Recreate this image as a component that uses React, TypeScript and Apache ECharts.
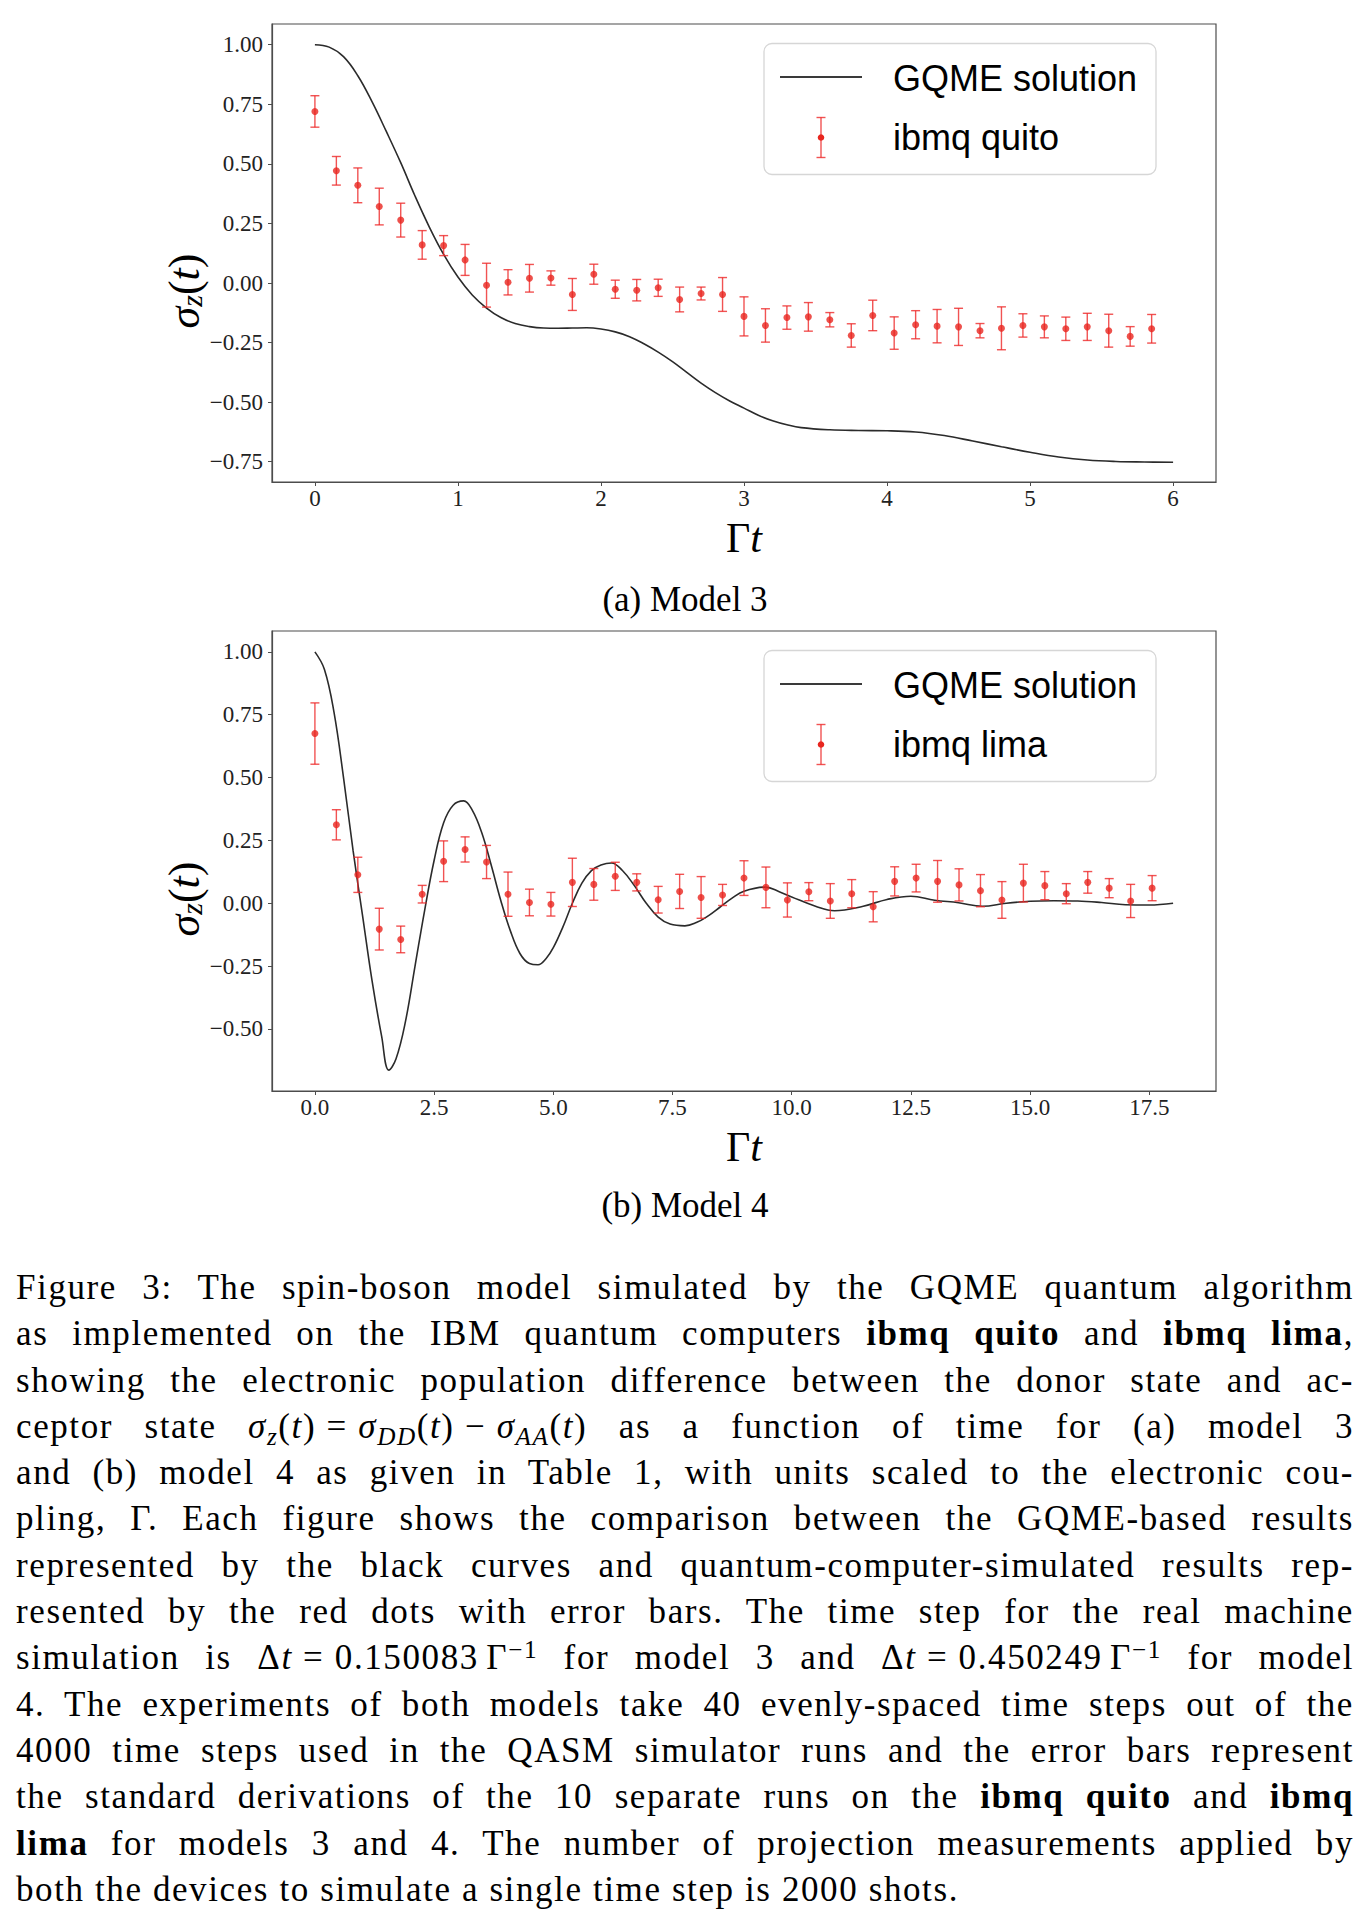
import React, { useEffect, useRef } from 'react';
import * as echarts from 'echarts';

// ---- (a) Model 3 : GQME curve, sampled off the figure
const curveATime = [0, 0.1, 0.2, 0.3, 0.4, 0.5, 0.6, 0.7, 0.8, 0.9, 1.0, 1.1, 1.2, 1.3, 1.4, 1.5, 1.6, 1.7, 1.8, 1.9, 2.0, 2.1, 2.2, 2.3, 2.4, 2.5, 2.6, 2.7, 2.8, 2.9, 3.0, 3.1, 3.2, 3.3, 3.4, 3.6, 3.8, 4.0, 4.2, 4.4, 4.6, 4.8, 5.0, 5.2, 5.4, 5.6, 5.8, 6.0];
const curveAValue = [1.0, 0.99, 0.95, 0.87, 0.76, 0.635, 0.505, 0.365, 0.235, 0.12, 0.025, -0.05, -0.105, -0.145, -0.17, -0.183, -0.189, -0.19, -0.189, -0.188, -0.193, -0.205, -0.225, -0.255, -0.29, -0.33, -0.375, -0.42, -0.46, -0.495, -0.525, -0.555, -0.578, -0.595, -0.607, -0.616, -0.619, -0.62, -0.625, -0.64, -0.663, -0.687, -0.71, -0.73, -0.743, -0.749, -0.751, -0.752];

// ibmq quito points (mean, +/- error)
const quitoTime = [0, 0.15, 0.30, 0.45, 0.60, 0.75, 0.90, 1.05, 1.20, 1.35, 1.50, 1.65, 1.80, 1.95, 2.10, 2.25, 2.40, 2.55, 2.70, 2.85, 3.00, 3.15, 3.30, 3.45, 3.60, 3.75, 3.90, 4.05, 4.20, 4.35, 4.50, 4.65, 4.80, 4.95, 5.10, 5.25, 5.40, 5.55, 5.70, 5.85];
const quitoMean = [0.72, 0.471, 0.41, 0.321, 0.264, 0.16, 0.157, 0.097, -0.009, 0.003, 0.02, 0.021, -0.048, 0.037, -0.026, -0.03, -0.02, -0.069, -0.044, -0.048, -0.14, -0.178, -0.145, -0.142, -0.154, -0.22, -0.136, -0.21, -0.175, -0.181, -0.184, -0.2, -0.19, -0.178, -0.184, -0.192, -0.184, -0.2, -0.224, -0.192];
const quitoErr = [0.066, 0.06, 0.073, 0.077, 0.071, 0.06, 0.042, 0.065, 0.092, 0.053, 0.058, 0.03, 0.067, 0.042, 0.038, 0.045, 0.036, 0.052, 0.027, 0.071, 0.082, 0.07, 0.049, 0.06, 0.03, 0.049, 0.064, 0.068, 0.059, 0.07, 0.078, 0.03, 0.09, 0.049, 0.046, 0.049, 0.057, 0.069, 0.041, 0.06];

// ---- (b) Model 4
const curveBTime = [0, 0.2, 0.4, 0.6, 0.8, 1.0, 1.2, 1.4, 1.55, 1.7, 1.9, 2.1, 2.3, 2.5, 2.7, 2.9, 3.12, 3.3, 3.5, 3.7, 3.9, 4.1, 4.3, 4.5, 4.68, 4.85, 5.0, 5.2, 5.4, 5.6, 5.8, 6.0, 6.22, 6.45, 6.7, 6.95, 7.2, 7.45, 7.76, 8.0, 8.25, 8.5, 8.75, 9.0, 9.45, 9.75, 10.0, 10.5, 10.9, 11.5, 12.0, 12.5, 13.0, 13.5, 14.0, 14.5, 15.0, 15.5, 16.0, 16.5, 17.0, 17.5, 18.0];
const curveBValue = [1.0, 0.93, 0.76, 0.5, 0.21, -0.05, -0.31, -0.53, -0.664, -0.62, -0.47, -0.25, -0.03, 0.17, 0.32, 0.39, 0.407, 0.37, 0.28, 0.15, 0.01, -0.11, -0.2, -0.24, -0.245, -0.22, -0.177, -0.095, 0.0, 0.08, 0.13, 0.152, 0.16, 0.13, 0.07, 0.0, -0.055, -0.083, -0.09, -0.077, -0.05, -0.015, 0.02, 0.048, 0.064, 0.045, 0.025, -0.012, -0.03, -0.012, 0.015, 0.028, 0.012, 0.002, -0.012, 0.0, 0.008, 0.01, 0.009, 0.003, -0.006, -0.007, 0.0];

const limaTime = [0, 0.45, 0.90, 1.35, 1.80, 2.25, 2.70, 3.15, 3.60, 4.05, 4.50, 4.95, 5.40, 5.85, 6.30, 6.75, 7.20, 7.65, 8.10, 8.55, 9.00, 9.46, 9.91, 10.36, 10.81, 11.26, 11.71, 12.16, 12.61, 13.06, 13.51, 13.96, 14.41, 14.86, 15.31, 15.76, 16.21, 16.66, 17.11, 17.56];
const limaMean = [0.675, 0.312, 0.113, -0.103, -0.144, 0.036, 0.167, 0.214, 0.164, 0.036, 0.003, -0.004, 0.083, 0.075, 0.107, 0.083, 0.014, 0.047, 0.023, 0.033, 0.1, 0.063, 0.013, 0.046, 0.009, 0.038, -0.014, 0.087, 0.1, 0.087, 0.073, 0.05, 0.013, 0.08, 0.07, 0.038, 0.083, 0.06, 0.009, 0.06];
const limaErr = [0.122, 0.06, 0.07, 0.083, 0.053, 0.035, 0.081, 0.05, 0.066, 0.088, 0.053, 0.047, 0.096, 0.063, 0.056, 0.034, 0.053, 0.068, 0.083, 0.042, 0.069, 0.081, 0.068, 0.036, 0.069, 0.056, 0.06, 0.058, 0.055, 0.083, 0.064, 0.064, 0.073, 0.075, 0.056, 0.04, 0.043, 0.038, 0.066, 0.05];

// tick labels
const xTicksA = [0, 1, 2, 3, 4, 5, 6];
const yTicksA = [-0.75, -0.5, -0.25, 0, 0.25, 0.5, 0.75, 1.0];
const xTicksB = [0, 2.5, 5, 7.5, 10, 12.5, 15, 17.5];
const yTicksB = [-0.5, -0.25, 0, 0.25, 0.5, 0.75, 1.0];

const SERIF = '"Liberation Serif", "DejaVu Serif", serif';
const SANS = '"Liberation Sans", Arial, sans-serif';
const ERR_COLOR = 'rgba(238, 40, 40, 0.8)';
const DOT_COLOR = '#e8261f';
const CURVE_COLOR = '#2b2b2b';
const SPINE = '#4d4d4d';

const fmtY = (v: number) => (v < 0 ? '\u2212' : '') + Math.abs(v).toFixed(2);

const makeXAxis = (gridIndex: number, min: number, max: number, ticks: number[], fmt: (v: number) => string) => ({
  type: 'value',
  gridIndex,
  min,
  max,
  axisLine: { show: true, onZero: false, lineStyle: { color: SPINE, width: 1.2 } },
  axisTick: { show: true, customValues: ticks, length: 4, lineStyle: { color: SPINE, width: 1 } },
  axisLabel: { customValues: ticks, formatter: fmt, fontFamily: SERIF, fontSize: 23, lineHeight: 23, color: '#222', margin: 5 },
  splitLine: { show: false },
});

const makeYAxis = (gridIndex: number, min: number, max: number, ticks: number[]) => ({
  type: 'value',
  gridIndex,
  min,
  max,
  axisLine: { show: true, onZero: false, lineStyle: { color: SPINE, width: 1.2 } },
  axisTick: { show: true, customValues: ticks, length: 4, lineStyle: { color: SPINE, width: 1 } },
  axisLabel: { customValues: ticks, formatter: fmtY, fontFamily: SERIF, fontSize: 23, color: '#222', margin: 9 },
  splitLine: { show: false },
});

const errorBars = (idx: number, t: number[], mean: number[], err: number[]) => ({
  type: 'custom',
  xAxisIndex: idx,
  yAxisIndex: idx,
  z: 3,
  data: t.map((x, i) => [x, mean[i] - err[i], mean[i] + err[i]]),
  encode: { x: 0, y: [1, 2] },
  renderItem: (_params: any, api: any) => {
    const x = api.value(0);
    const lo = api.coord([x, api.value(1)]);
    const hi = api.coord([x, api.value(2)]);
    const style = { stroke: ERR_COLOR, lineWidth: 1.4 };
    return {
      type: 'group',
      children: [
        { type: 'line', shape: { x1: hi[0], y1: hi[1], x2: lo[0], y2: lo[1] }, style },
        { type: 'line', shape: { x1: hi[0] - 4.5, y1: hi[1], x2: hi[0] + 4.5, y2: hi[1] }, style },
        { type: 'line', shape: { x1: lo[0] - 4.5, y1: lo[1], x2: lo[0] + 4.5, y2: lo[1] }, style },
      ],
    };
  },
});

const dots = (idx: number, t: number[], mean: number[]) => ({
  type: 'scatter',
  xAxisIndex: idx,
  yAxisIndex: idx,
  z: 4,
  symbolSize: 7,
  itemStyle: { color: DOT_COLOR },
  data: t.map((x, i) => [x, mean[i]]),
});

const curve = (idx: number, t: number[], v: number[]) => ({
  type: 'line',
  xAxisIndex: idx,
  yAxisIndex: idx,
  z: 2,
  smooth: 0.4,
  showSymbol: false,
  lineStyle: { color: CURVE_COLOR, width: 1.6 },
  data: t.map((x, i) => [x, v[i]]),
});

// legend box drawn by hand so the error-bar glyph matches
const legendBox = (top: number, label: string) => ({
  type: 'group',
  children: [
    { type: 'rect', shape: { x: 764, y: top, width: 392, height: 131, r: 8 }, style: { fill: 'rgba(255,255,255,0.85)', stroke: '#d6d6d6', lineWidth: 1.3 }, z: 10 },
    { type: 'line', shape: { x1: 780, y1: top + 33.5, x2: 862, y2: top + 33.5 }, style: { stroke: '#3a3a3a', lineWidth: 1.8 }, z: 11 },
    { type: 'text', x: 893, y: top + 35, style: { text: 'GQME solution', fontFamily: SANS, fontSize: 36, fill: '#000', verticalAlign: 'middle' }, z: 11 },
    { type: 'line', shape: { x1: 821, y1: top + 74, x2: 821, y2: top + 114 }, style: { stroke: ERR_COLOR, lineWidth: 1.4 }, z: 11 },
    { type: 'line', shape: { x1: 816.5, y1: top + 74, x2: 825.5, y2: top + 74 }, style: { stroke: ERR_COLOR, lineWidth: 1.4 }, z: 11 },
    { type: 'line', shape: { x1: 816.5, y1: top + 114, x2: 825.5, y2: top + 114 }, style: { stroke: ERR_COLOR, lineWidth: 1.4 }, z: 11 },
    { type: 'circle', shape: { cx: 821, cy: top + 94, r: 3.3 }, style: { fill: DOT_COLOR }, z: 11 },
    { type: 'text', x: 893, y: top + 94, style: { text: label, fontFamily: SANS, fontSize: 36, fill: '#000', verticalAlign: 'middle' }, z: 11 },
  ],
});

const mathRich = {
  u: { fontFamily: SERIF, fontSize: 44, lineHeight: 52, verticalAlign: 'bottom', fill: '#000' },
  i: { fontFamily: SERIF, fontSize: 44, fontStyle: 'italic', lineHeight: 52, verticalAlign: 'bottom', fill: '#000' },
  s: { fontFamily: SERIF, fontSize: 30, fontStyle: 'italic', lineHeight: 22, verticalAlign: 'bottom', fill: '#000' },
};

// x title: tighter line box so it does not touch the tick labels above
const xTitleRich = {
  u: { fontFamily: SERIF, fontSize: 42, lineHeight: 36, fill: '#000' },
  i: { fontFamily: SERIF, fontSize: 42, fontStyle: 'italic', lineHeight: 36, fill: '#000' },
};

const yTitle = (cy: number) => ({
  type: 'text',
  x: 180,
  y: cy,
  rotation: Math.PI / 2,
  style: { text: '{i|σ}{s|z}{u|(}{i|t}{u|)}', rich: mathRich, align: 'center', verticalAlign: 'middle' },
});

const xTitle = (cy: number) => ({
  type: 'text',
  x: 744,
  y: cy,
  style: { text: '{u|Γ}{i|t}', rich: xTitleRich, align: 'center', verticalAlign: 'middle' },
});

const subCaption = (cy: number, text: string) => ({
  type: 'text',
  x: 685,
  y: cy,
  style: { text, fontFamily: SERIF, fontSize: 35, fill: '#000', align: 'center', verticalAlign: 'middle' },
});

const FigureChart: React.FC = () => {
  const chartRef = useRef<HTMLDivElement>(null);

  useEffect(() => {
    if (!chartRef.current) return;
    const chart = echarts.init(chartRef.current, null, { renderer: 'svg' });

    const option = {
      animation: false,
      grid: [
        { left: 272, top: 24, width: 944, height: 458, show: true, borderColor: SPINE, borderWidth: 1.2, backgroundColor: '#fff' },
        { left: 272, top: 631, width: 944, height: 460, show: true, borderColor: SPINE, borderWidth: 1.2, backgroundColor: '#fff' },
      ],
      xAxis: [
        makeXAxis(0, -0.3, 6.3, xTicksA, (v: number) => String(v)),
        makeXAxis(1, -0.9, 18.9, xTicksB, (v: number) => v.toFixed(1)),
      ],
      yAxis: [
        makeYAxis(0, -0.835, 1.087, yTicksA),
        makeYAxis(1, -0.747, 1.083, yTicksB),
      ],
      series: [
        curve(0, curveATime, curveAValue),
        errorBars(0, quitoTime, quitoMean, quitoErr),
        dots(0, quitoTime, quitoMean),
        curve(1, curveBTime, curveBValue),
        errorBars(1, limaTime, limaMean, limaErr),
        dots(1, limaTime, limaMean),
      ],
      graphic: [
        legendBox(43.5, 'ibmq quito'),
        legendBox(650.5, 'ibmq lima'),
        yTitle(291),
        yTitle(899),
        xTitle(538),
        xTitle(1147),
        subCaption(599, '(a) Model 3'),
        subCaption(1205, '(b) Model 4'),
      ],
    };

    chart.setOption(option);
    return () => {
      chart.dispose();
    };
  }, []);

  return <div ref={chartRef} style={{ position: 'absolute', left: 0, top: 0, width: 1370, height: 1250 }} />;
};

const Sub: React.FC<{ children: React.ReactNode }> = ({ children }) => (
  <span style={{ fontSize: '0.72em', verticalAlign: '-0.28em', lineHeight: 0 }}>{children}</span>
);
const Sup: React.FC<{ children: React.ReactNode }> = ({ children }) => (
  <span style={{ fontSize: '0.72em', verticalAlign: '0.45em', lineHeight: 0 }}>{children}</span>
);

// fixed-width spaces inside formulas, so justification does not stretch them
const M = '\u2005';
const T = '\u2006';

const captionLines: React.ReactNode[] = [
  <>Figure 3: The spin-boson model simulated by the GQME quantum algorithm</>,
  <>as implemented on the IBM quantum computers <b>ibmq quito</b> and <b>ibmq lima</b>,</>,
  <>showing the electronic population difference between the donor state and ac-</>,
  <>
    ceptor state <i>σ</i><Sub><i>z</i></Sub>(<i>t</i>){M}={M}<i>σ</i><Sub><i>DD</i></Sub>(<i>t</i>){M}−{M}<i>σ</i><Sub><i>AA</i></Sub>(<i>t</i>) as a function of time for (a) model 3
  </>,
  <>and (b) model 4 as given in Table 1, with units scaled to the electronic cou-</>,
  <>pling, Γ. Each figure shows the comparison between the GQME-based results</>,
  <>represented by the black curves and quantum-computer-simulated results rep-</>,
  <>resented by the red dots with error bars. The time step for the real machine</>,
  <>
    simulation is Δ<i>t</i>{M}={M}0.150083{T}Γ<Sup>−1</Sup> for model 3 and Δ<i>t</i>{M}={M}0.450249{T}Γ<Sup>−1</Sup> for model
  </>,
  <>4. The experiments of both models take 40 evenly-spaced time steps out of the</>,
  <>4000 time steps used in the QASM simulator runs and the error bars represent</>,
  <>the standard derivations of the 10 separate runs on the <b>ibmq quito</b> and <b>ibmq</b></>,
  <><b>lima</b> for models 3 and 4. The number of projection measurements applied by</>,
  <>both the devices to simulate a single time step is 2000 shots.</>,
];

const Caption: React.FC = () => (
  <div
    style={{
      position: 'absolute',
      left: 16,
      top: 1265,
      width: 1338,
      fontFamily: SERIF,
      fontSize: 35,
      letterSpacing: 1.6,
      color: '#000',
    }}
  >
    {captionLines.map((line, i) => {
      const last = i === captionLines.length - 1;
      return (
        <div
          key={i}
          style={{
            height: 46.3,
            lineHeight: '46.3px',
            textAlign: last ? 'left' : 'justify',
            textAlignLast: last ? 'left' : 'justify',
          }}
        >
          {line}
        </div>
      );
    })}
  </div>
);

export default function App() {
  return (
    <div style={{ position: 'absolute', left: 0, top: 0, width: 1370, height: 1922, background: '#fff' }}>
      <FigureChart />
      <Caption />
    </div>
  );
}
